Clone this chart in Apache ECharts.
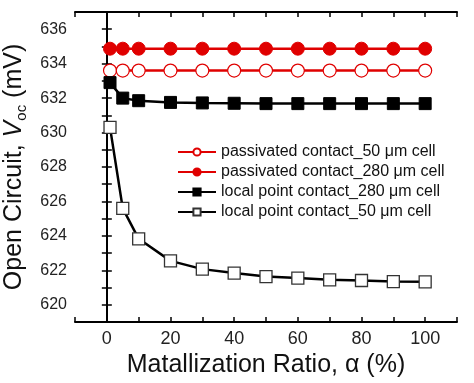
<!DOCTYPE html>
<html><head><meta charset="utf-8">
<script src="https://cdn.jsdelivr.net/npm/echarts@6/dist/echarts.min.js"></script>
<style>html,body{margin:0;padding:0;background:#fff}#c{width:474px;height:383px}</style>
</head><body><div id="c"></div>
<script>
const alpha = [1, 5, 10, 20, 30, 40, 50, 60, 70, 80, 90, 100];
const passivated50 = [633.6, 633.6, 633.6, 633.6, 633.6, 633.6, 633.6, 633.6, 633.6, 633.6, 633.6, 633.6];
const passivated280 = [634.87, 634.87, 634.87, 634.87, 634.87, 634.87, 634.87, 634.87, 634.87, 634.87, 634.87, 634.87];
const local280 = [632.9, 632.0, 631.85, 631.75, 631.72, 631.7, 631.68, 631.68, 631.68, 631.68, 631.68, 631.68];
const local50 = [630.3, 625.6, 623.83, 622.55, 622.07, 621.84, 621.64, 621.55, 621.45, 621.41, 621.35, 621.33];
const seriesNames = ['passivated contact_50 \u03bcm cell', 'passivated contact_280 \u03bcm cell', 'local point contact_280 \u03bcm cell', 'local point contact_50 \u03bcm cell'];

const pair = (ys) => alpha.map((x, i) => [x, ys[i]]);
const RED = '#e00000';
const FONT = 'Liberation Sans, Arial, sans-serif';

const chart = echarts.init(document.getElementById('c'), null, {renderer: 'canvas'});
const axisCommon = {
  axisLine: {show: true, lineStyle: {color: '#000', width: 2}},
  axisTick: {show: true, inside: true, length: 5, lineStyle: {color: '#000', width: 1.5}},
  splitLine: {show: false}
};
chart.setOption({
  animation: false,
  grid: {left: 75, right: 17, top: 12, bottom: 61, outerBoundsMode: 'none', containLabel: false},
  legend: {
    left: 172, top: 139, orient: 'vertical', itemGap: 4, itemWidth: 38, itemHeight: 9,
    textStyle: {fontFamily: FONT, fontSize: 16, color: '#111'},
    data: seriesNames
  },
  xAxis: [
    Object.assign({type: 'value', min: -10, max: 110, interval: 10, position: 'bottom',
      name: 'Matallization Ratio, \u03b1 (%)', nameLocation: 'middle', nameGap: 30,
      nameTextStyle: {fontFamily: FONT, fontSize: 25, color: '#111'},
      axisLabel: {fontFamily: FONT, fontSize: 18, color: '#222', margin: 8,
        formatter: v => (v % 20 === 0 && v >= 0 && v <= 100) ? String(v) : ''}}, axisCommon),
    Object.assign({type: 'value', min: -10, max: 110, interval: 10, position: 'top',
      axisLabel: {show: false}}, axisCommon)
  ],
  yAxis: [
    Object.assign({type: 'value', min: 619, max: 637, interval: 1, position: 'left',
      name: '{a|Open Circuit, }{i|V}{s|oc}{a| (mV)}', nameLocation: 'middle', nameGap: 38,
      nameTextStyle: {fontFamily: FONT, fontSize: 25, color: '#111',
        rich: {
          a: {fontFamily: FONT, fontSize: 25, color: '#111'},
          i: {fontFamily: FONT, fontSize: 25, fontStyle: 'italic', color: '#111'},
          s: {fontFamily: FONT, fontSize: 15, color: '#111', padding: [15, 0, 0, 0]}
        }},
      axisLabel: {fontFamily: FONT, fontSize: 16, color: '#222', margin: 8,
        formatter: v => (v % 2 === 0) ? String(v) : ''}}, axisCommon),
    Object.assign({type: 'value', min: 619, max: 637, interval: 1, position: 'right',
      axisLabel: {show: false}}, axisCommon)
  ],
  series: [
    {name: seriesNames[0], type: 'line', data: pair(passivated50), symbol: 'circle', symbolSize: 13,
      lineStyle: {color: RED, width: 2.5}, itemStyle: {color: '#fff', borderColor: RED, borderWidth: 1.2}, z: 3},
    {name: seriesNames[1], type: 'line', data: pair(passivated280), symbol: 'circle', symbolSize: 13,
      lineStyle: {color: RED, width: 2.5}, itemStyle: {color: RED, borderColor: RED, borderWidth: 1}, z: 3},
    {name: seriesNames[2], type: 'line', data: pair(local280), symbol: 'rect', symbolSize: 12,
      lineStyle: {color: '#000', width: 2.5}, itemStyle: {color: '#000', borderColor: '#000', borderWidth: 1}, z: 3},
    {name: seriesNames[3], type: 'line', data: pair(local50), symbol: 'rect', symbolSize: 12,
      lineStyle: {color: '#000', width: 2.5}, itemStyle: {color: '#fff', borderColor: '#333', borderWidth: 1.3}, z: 3}
  ]
});
</script></body></html>
